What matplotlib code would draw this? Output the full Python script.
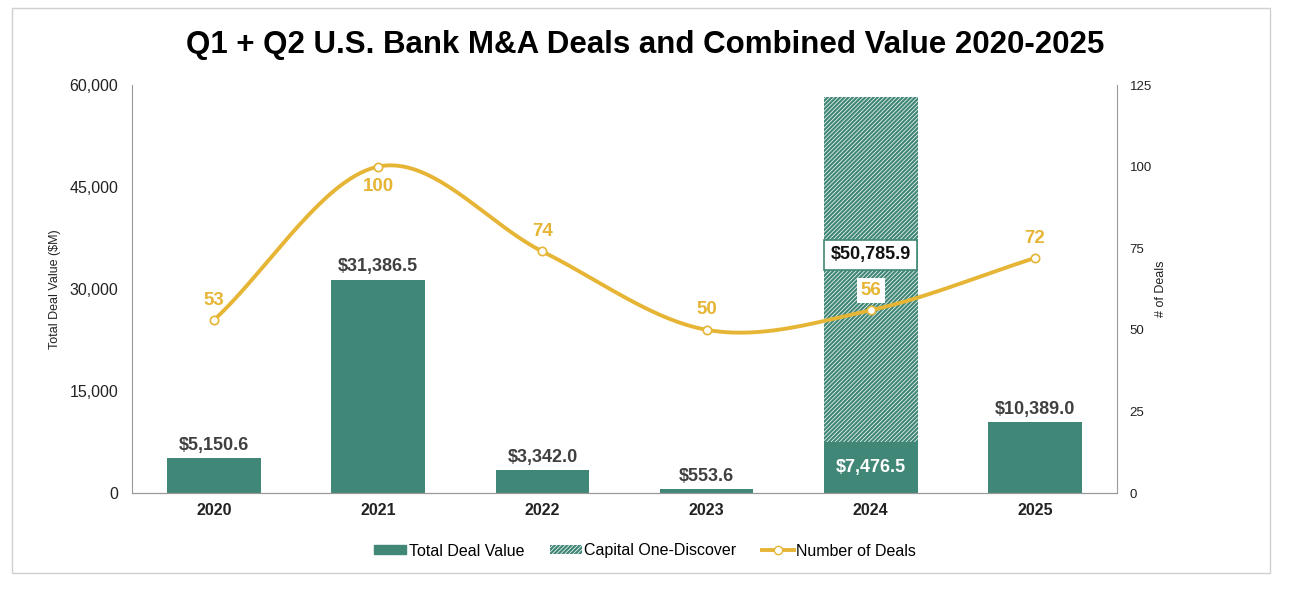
import matplotlib
matplotlib.use("Agg")
import matplotlib.pyplot as plt
import numpy as np
from matplotlib.patches import Rectangle, Patch
from matplotlib.lines import Line2D

plt.rcParams['font.family'] = ['Liberation Sans', 'DejaVu Sans']

years = ["2020", "2021", "2022", "2023", "2024", "2025"]
deal_value = [5150.6, 31386.5, 3342.0, 553.6, 7476.5, 10389.0]
cof_discover = [0, 0, 0, 0, 50785.9, 0]
num_deals = [53, 100, 74, 50, 56, 72]
value_labels = ["$5,150.6", "$31,386.5", "$3,342.0", "$553.6", "$7,476.5", "$10,389.0"]
cof_label = "$50,785.9"

GREEN = "#418777"
GOLD = "#E6B535"
DARK = "#404040"

fig = plt.figure(figsize=(12.9, 5.92), dpi=100)
fig.patches.append(Rectangle((12/1290, 1-573/592), (1270-12)/1290, (573-8)/592,
                             transform=fig.transFigure, fill=False, edgecolor="#D0D0D0", lw=1))
ax = fig.add_axes([132/1290, 1-493/592, (1117-132)/1290, (493-85)/592])
ax2 = ax.twinx()

x = np.arange(len(years))
w = 0.57
ax.bar(x, deal_value, w, color=GREEN, zorder=2)
plt.rcParams['hatch.linewidth'] = 1.6
ax.bar(x, cof_discover, w, bottom=deal_value, color="white", edgecolor=GREEN,
       hatch="////////", linewidth=0, zorder=2)

ax.set_xlim(-0.5, len(years) - 0.5)
ax.set_ylim(0, 60000)
ax.set_yticks([0, 15000, 30000, 45000, 60000])
ax.set_yticklabels(["0", "15,000", "30,000", "45,000", "60,000"], fontsize=11.5, color="#222222")
ax.set_xticks(x)
ax.set_xticklabels(years, fontsize=11.5, fontweight="bold", color="#222222")
ax.tick_params(axis='y', length=0, pad=10)
ax.tick_params(axis='x', length=0, pad=7)
ax.set_ylabel("Total Deal Value ($M)", fontsize=9, color="#222222", labelpad=6)
for s in ["top", "right"]:
    ax.spines[s].set_visible(False)
for a in (ax, ax2):
    for s in ["left", "right", "bottom"]:
        a.spines[s].set_color("#999999")
ax2.spines["top"].set_visible(False)
ax2.spines["left"].set_visible(False)

for i, (v, lab) in enumerate(zip(deal_value, value_labels)):
    if cof_discover[i] > 0:
        ax.text(i, v / 2, lab, ha="center", va="center", fontsize=13, fontweight="bold",
                color="white", zorder=5)
        ax.text(i, v + cof_discover[i] * 0.542, cof_label, ha="center", va="center",
                fontsize=13, fontweight="bold", color="#111111", zorder=5,
                bbox=dict(boxstyle="square,pad=0.35", fc="white", ec=GREEN, lw=1.2))
    else:
        ax.text(i, v + 600, lab, ha="center", va="bottom", fontsize=13,
                fontweight="bold", color=DARK, zorder=5)

# smoothed line (Catmull-Rom through data points)
pts = np.array([x, num_deals], dtype=float).T
P = np.vstack([2 * pts[0] - pts[1], pts, 2 * pts[-1] - pts[-2]])
cx, cy = [], []
for k in range(1, len(P) - 2):
    p0, p1, p2, p3 = P[k - 1], P[k], P[k + 1], P[k + 2]
    t = np.linspace(0, 1, 40)[:, None]
    c = 0.5 * ((2 * p1) + (-p0 + p2) * t + (2 * p0 - 5 * p1 + 4 * p2 - p3) * t ** 2
               + (-p0 + 3 * p1 - 3 * p2 + p3) * t ** 3)
    cx.extend(c[:, 0]); cy.extend(c[:, 1])
ax2.plot(cx, cy, color=GOLD, lw=2.8, zorder=3)
ax2.plot(x, num_deals, ls="none", marker="o", ms=6, mfc="white", mec=GOLD, mew=1.2, zorder=4)
ax2.set_ylim(0, 125)
ax2.set_yticks([0, 25, 50, 75, 100, 125])
ax2.set_yticklabels(["0", "25", "50", "75", "100", "125"], fontsize=9.5, color="#222222")
ax2.tick_params(axis='y', length=0, pad=9)
ax2.set_ylabel("# of Deals", fontsize=9, color="#222222", labelpad=2)
for i, n in enumerate(num_deals):
    bb = dict(boxstyle="square,pad=0.2", fc="white", ec="none") if cof_discover[i] > 0 else None
    if i > 0 and i < len(num_deals) - 1 and n > num_deals[i - 1] and n > num_deals[i + 1] and n >= 100:
        ax2.text(i, n - 3.5, str(n), ha="center", va="top", fontsize=13.5, fontweight="bold",
                 color=GOLD, zorder=6, bbox=bb)
    else:
        ax2.text(i, n + 3.5, str(n), ha="center", va="bottom", fontsize=13.5, fontweight="bold",
                 color=GOLD, zorder=6, bbox=bb)
ax.set_zorder(1); ax2.set_zorder(2); ax2.patch.set_visible(False)

fig.text(0.5, 1 - 45/592, "Q1 + Q2 U.S. Bank M&A Deals and Combined Value 2020-2025",
         ha="center", va="center", fontsize=22.5, fontweight="bold", color="black")

handles = [Patch(facecolor=GREEN, edgecolor=GREEN),
           Patch(facecolor="white", edgecolor=GREEN, hatch="////////", lw=0),
           Line2D([0], [0], color=GOLD, lw=2.8, marker="o", ms=6, mfc="white", mec=GOLD)]
fig.legend(handles, ["Total Deal Value", "Capital One-Discover", "Number of Deals"],
           loc="center", bbox_to_anchor=(0.5, 1 - 551/592), ncol=3, frameon=False,
           fontsize=11.5, handlelength=2.0, handleheight=0.5, handletextpad=0.15, columnspacing=1.6)

fig.savefig("out.png", dpi=100)
